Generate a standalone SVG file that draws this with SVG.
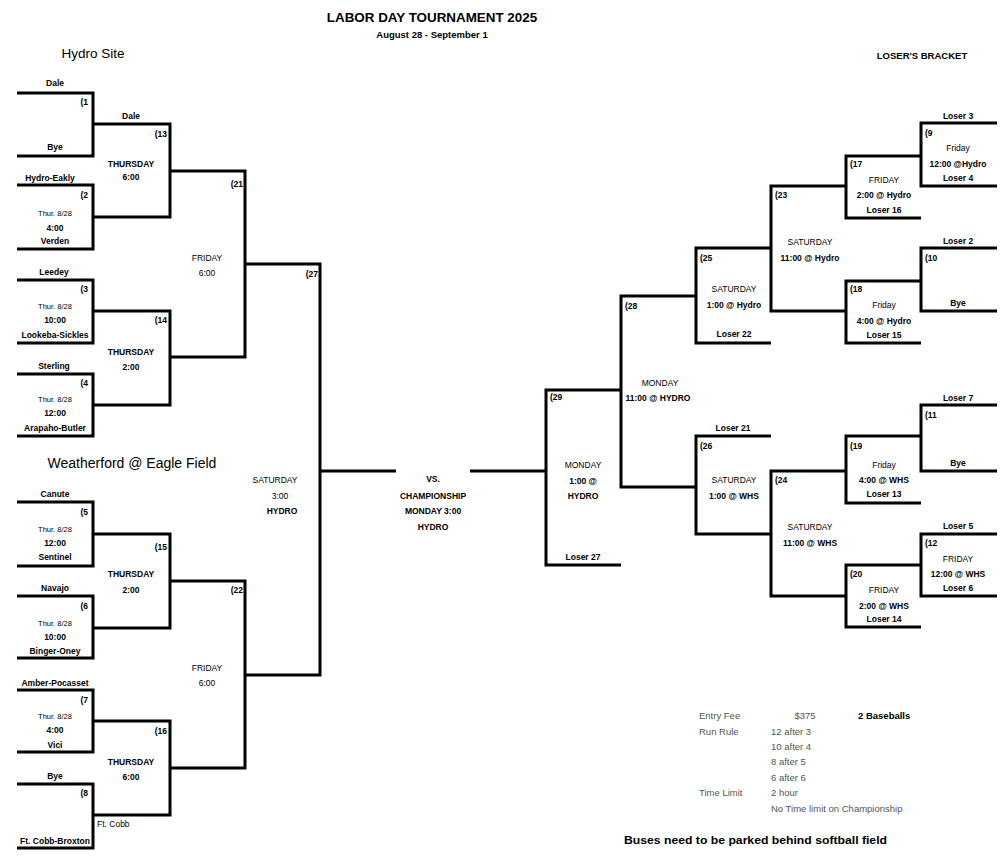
<svg xmlns="http://www.w3.org/2000/svg" width="1007" height="857" viewBox="0 0 1007 857">
<style>
text{font-family:"Liberation Sans",Arial,sans-serif;fill:#000;dominant-baseline:central}
.b{font-size:8.5px;font-weight:bold;text-anchor:middle}
.r{font-size:8.5px;text-anchor:middle}
.s{font-size:7.5px;text-anchor:middle}
.n{font-size:8.5px;font-weight:bold}
.ne{font-size:8.5px;font-weight:bold;text-anchor:end}
.h{font-size:13.5px;text-anchor:middle}
.note{font-size:9.5px;fill:#555}
.br{fill:none;stroke:#000;stroke-width:3}
</style>
<rect width="1007" height="857" fill="#fff"/>
<g id="header">
<text x="432" y="17" style="font-size:13.4px;font-weight:bold;text-anchor:middle">LABOR DAY TOURNAMENT 2025</text>
<text x="432" y="34" class="b" style="font-size:9.5px">August 28 - September 1</text>
<text x="93" y="53" class="h">Hydro Site</text>
<text x="132" y="463" class="h" style="font-size:14px">Weatherford @ Eagle Field</text>
<text x="922" y="55" class="b" style="font-size:9.5px">LOSER'S BRACKET</text>
</g>
<g id="connectors">
<path class="br" d="M17,93 H93 V156 H17"/>
<path class="br" d="M17,185 H93 V249 H17"/>
<path class="br" d="M17,280 H93 V343 H17"/>
<path class="br" d="M17,374 H93 V436 H17"/>
<path class="br" d="M17,502 H93 V566 H17"/>
<path class="br" d="M17,596 H93 V658 H17"/>
<path class="br" d="M17,690 H93 V752 H17"/>
<path class="br" d="M17,784 H93 V848 H17"/>
<path class="br" d="M93,124 H170 V217 H93"/>
<path class="br" d="M93,311 H170 V405 H93"/>
<path class="br" d="M93,534 H170 V628 H93"/>
<path class="br" d="M93,721 H170 V815 H93"/>
<path class="br" d="M170,171 H245 V357 H170"/>
<path class="br" d="M170,581 H245 V768 H170"/>
<path class="br" d="M245,264 H320 V675 H245"/>
<path class="br" d="M320,471 H396"/>
<path class="br" d="M470,471 H546"/>
<path class="br" d="M621,390 H546 V565 H621"/>
<path class="br" d="M696,296 H621 V487 H696"/>
<path class="br" d="M771,248 H696 V343 H771"/>
<path class="br" d="M771,436 H696 V534 H771"/>
<path class="br" d="M846,186 H771 V311 H846"/>
<path class="br" d="M846,471 H771 V596 H846"/>
<path class="br" d="M921,156 H846 V218 H921"/>
<path class="br" d="M921,281 H846 V343 H921"/>
<path class="br" d="M921,436 H846 V503 H921"/>
<path class="br" d="M921,565 H846 V627 H921"/>
<path class="br" d="M997,123 H921 V186 H997"/>
<path class="br" d="M997,248 H921 V311 H997"/>
<path class="br" d="M997,405 H921 V471 H997"/>
<path class="br" d="M997,534 H921 V596 H997"/>
</g>
<g id="g1"><text x="55" y="83" class="b">Dale</text><text x="88" y="102" class="ne">(1</text><text x="55" y="147" class="b">Bye</text></g>
<g id="g2"><text x="50" y="178" class="b">Hydro-Eakly</text><text x="88" y="195" class="ne">(2</text><text x="55" y="213" class="s">Thur. 8/28</text><text x="55" y="228" class="b">4:00</text><text x="55" y="241" class="b">Verden</text></g>
<g id="g3"><text x="54" y="272" class="b">Leedey</text><text x="88" y="289" class="ne">(3</text><text x="55" y="306" class="s">Thur. 8/28</text><text x="55" y="320" class="b">10:00</text><text x="55" y="335" class="b">Lookeba-Sickles</text></g>
<g id="g4"><text x="54" y="366" class="b">Sterling</text><text x="88" y="383" class="ne">(4</text><text x="55" y="399" class="s">Thur. 8/28</text><text x="55" y="413" class="b">12:00</text><text x="55" y="428" class="b">Arapaho-Butler</text></g>
<g id="g5"><text x="55" y="494" class="b">Canute</text><text x="88" y="512" class="ne">(5</text><text x="55" y="529" class="s">Thur. 8/28</text><text x="55" y="543" class="b">12:00</text><text x="55" y="557" class="b">Sentinel</text></g>
<g id="g6"><text x="55" y="588" class="b">Navajo</text><text x="88" y="606" class="ne">(6</text><text x="55" y="623" class="s">Thur. 8/28</text><text x="55" y="637" class="b">10:00</text><text x="55" y="651" class="b">Binger-Oney</text></g>
<g id="g7"><text x="55" y="683" class="b">Amber-Pocasset</text><text x="88" y="700" class="ne">(7</text><text x="55" y="716" class="s">Thur. 8/28</text><text x="55" y="730" class="b">4:00</text><text x="55" y="745" class="b">Vici</text></g>
<g id="g8"><text x="55" y="776" class="b">Bye</text><text x="88" y="793" class="ne">(8</text><text x="55" y="841" class="b">Ft. Cobb-Broxton</text></g>
<g id="g13"><text x="131" y="116" class="b">Dale</text><text x="167" y="134" class="ne">(13</text><text x="131" y="164" class="b">THURSDAY</text><text x="131" y="177" class="b">6:00</text></g>
<g id="g14"><text x="167" y="320" class="ne">(14</text><text x="131" y="352" class="b">THURSDAY</text><text x="131" y="367" class="b">2:00</text></g>
<g id="g15"><text x="167" y="547" class="ne">(15</text><text x="131" y="574" class="b">THURSDAY</text><text x="131" y="590" class="b">2:00</text></g>
<g id="g16"><text x="167" y="731" class="ne">(16</text><text x="131" y="762" class="b">THURSDAY</text><text x="131" y="777" class="b">6:00</text><text x="97" y="824" class="n" style="font-weight:normal">Ft. Cobb</text></g>
<g id="g21"><text x="243" y="184" class="ne">(21</text><text x="207" y="258" class="r">FRIDAY</text><text x="207" y="273" class="r">6:00</text></g>
<g id="g22"><text x="243" y="590" class="ne">(22</text><text x="207" y="668" class="r">FRIDAY</text><text x="207" y="683" class="r">6:00</text></g>
<g id="g27"><text x="318" y="274" class="ne">(27</text><text x="275" y="480" class="r">SATURDAY</text><text x="280" y="496" class="r">3:00</text><text x="282" y="511" class="b">HYDRO</text></g>
<g id="championship"><text x="433" y="479" class="b">VS.</text><text x="433" y="496" class="b">CHAMPIONSHIP</text><text x="433" y="511" class="b">MONDAY 3:00</text><text x="433" y="527" class="b">HYDRO</text></g>
<g id="g29"><text x="550" y="397" class="n">(29</text><text x="583" y="465" class="r">MONDAY</text><text x="583" y="481" class="b">1:00 @</text><text x="583" y="496" class="b">HYDRO</text><text x="583" y="557" class="b">Loser 27</text></g>
<g id="g28"><text x="625" y="306" class="n">(28</text><text x="660" y="383" class="r">MONDAY</text><text x="658" y="398" class="b">11:00 @ HYDRO</text></g>
<g id="g25"><text x="700" y="258" class="n">(25</text><text x="734" y="289" class="r">SATURDAY</text><text x="734" y="305" class="b">1:00 @ Hydro</text><text x="734" y="334" class="b">Loser 22</text></g>
<g id="g26"><text x="733" y="428" class="b">Loser 21</text><text x="700" y="446" class="n">(26</text><text x="734" y="480" class="r">SATURDAY</text><text x="734" y="496" class="b">1:00 @ WHS</text></g>
<g id="g23"><text x="775" y="195" class="n">(23</text><text x="810" y="242" class="r">SATURDAY</text><text x="810" y="258" class="b">11:00 @ Hydro</text></g>
<g id="g24"><text x="775" y="480" class="n">(24</text><text x="810" y="527" class="r">SATURDAY</text><text x="810" y="543" class="b">11:00 @ WHS</text></g>
<g id="g17"><text x="850" y="164" class="n">(17</text><text x="884" y="180" class="r">FRIDAY</text><text x="884" y="195" class="b">2:00 @ Hydro</text><text x="884" y="210" class="b">Loser 16</text></g>
<g id="g18"><text x="850" y="289" class="n">(18</text><text x="884" y="305" class="r">Friday</text><text x="884" y="321" class="b">4:00 @ Hydro</text><text x="884" y="335" class="b">Loser 15</text></g>
<g id="g19"><text x="850" y="446" class="n">(19</text><text x="884" y="465" class="r">Friday</text><text x="884" y="480" class="b">4:00 @ WHS</text><text x="884" y="494" class="b">Loser 13</text></g>
<g id="g20"><text x="850" y="574" class="n">(20</text><text x="884" y="590" class="r">FRIDAY</text><text x="884" y="606" class="b">2:00 @ WHS</text><text x="884" y="619" class="b">Loser 14</text></g>
<g id="g9"><text x="958" y="116" class="b">Loser 3</text><text x="925" y="133" class="n">(9</text><text x="958" y="148" class="r">Friday</text><text x="958" y="164" class="b">12:00 @Hydro</text><text x="958" y="178" class="b">Loser 4</text></g>
<g id="g10"><text x="958" y="241" class="b">Loser 2</text><text x="925" y="258" class="n">(10</text><text x="958" y="303" class="b">Bye</text></g>
<g id="g11"><text x="958" y="398" class="b">Loser 7</text><text x="925" y="415" class="n">(11</text><text x="958" y="463" class="b">Bye</text></g>
<g id="g12"><text x="958" y="526" class="b">Loser 5</text><text x="925" y="543" class="n">(12</text><text x="958" y="559" class="r">FRIDAY</text><text x="958" y="574" class="b">12:00 @ WHS</text><text x="958" y="588" class="b">Loser 6</text></g>
<g id="notes">
<text x="699" y="715" class="note">Entry Fee</text><text x="805" y="715" class="note" style="text-anchor:middle">$375</text><text x="858" y="715" class="note" style="font-weight:bold;fill:#000">2 Baseballs</text>
<text x="699" y="731" class="note">Run Rule</text><text x="771" y="731" class="note">12 after 3</text>
<text x="771" y="746" class="note">10 after 4</text>
<text x="771" y="761" class="note">8  after 5</text>
<text x="771" y="777" class="note">6 after 6</text>
<text x="699" y="792" class="note">Time Limit</text><text x="771" y="792" class="note">2 hour</text>
<text x="771" y="808" class="note">No Time limit on Championship</text>
<text x="624" y="840" textLength="263" lengthAdjust="spacingAndGlyphs" style="font-size:11px;font-weight:bold">Buses need to be parked behind softball field</text>
</g>
</svg>
